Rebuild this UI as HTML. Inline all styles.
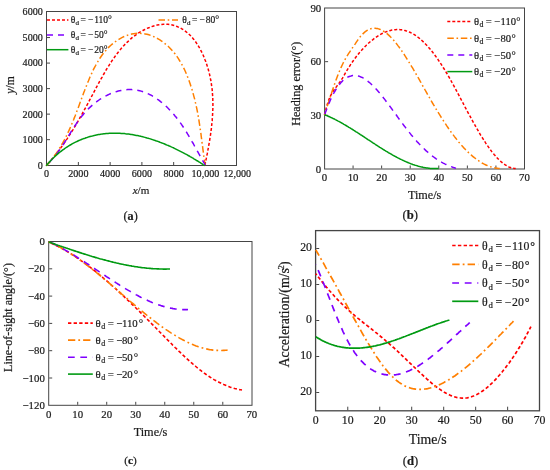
<!DOCTYPE html>
<html><head><meta charset="utf-8"><style>
html,body{margin:0;padding:0;background:#fff;}
svg{display:block;}
text{font-family:"Liberation Serif", "Times New Roman", serif;fill:#1a1a1a;stroke:#1a1a1a;stroke-width:0.2px;}
</style></head><body>
<svg width="550" height="470" viewBox="0 0 550 470">
<rect width="550" height="470" fill="#fff"/>
<rect x="46.50" y="11.50" width="190.00" height="154.00" fill="none" stroke="#454545" stroke-width="1.00"/>
<line x1="47.00" y1="139.67" x2="50.00" y2="139.67" stroke="#454545"/>
<line x1="47.00" y1="114.14" x2="50.00" y2="114.14" stroke="#454545"/>
<line x1="47.00" y1="88.61" x2="50.00" y2="88.61" stroke="#454545"/>
<line x1="47.00" y1="63.08" x2="50.00" y2="63.08" stroke="#454545"/>
<line x1="47.00" y1="37.55" x2="50.00" y2="37.55" stroke="#454545"/>
<line x1="78.37" y1="165.00" x2="78.37" y2="162.00" stroke="#454545"/>
<line x1="110.13" y1="165.00" x2="110.13" y2="162.00" stroke="#454545"/>
<line x1="141.90" y1="165.00" x2="141.90" y2="162.00" stroke="#454545"/>
<line x1="173.67" y1="165.00" x2="173.67" y2="162.00" stroke="#454545"/>
<line x1="205.43" y1="165.00" x2="205.43" y2="162.00" stroke="#454545"/>
<text x="42.80" y="168.60" font-size="10.10" text-anchor="end">0</text>
<text x="42.80" y="143.07" font-size="10.10" text-anchor="end">1000</text>
<text x="42.80" y="117.54" font-size="10.10" text-anchor="end">2000</text>
<text x="42.80" y="92.01" font-size="10.10" text-anchor="end">3000</text>
<text x="42.80" y="66.48" font-size="10.10" text-anchor="end">4000</text>
<text x="42.80" y="40.95" font-size="10.10" text-anchor="end">5000</text>
<text x="42.80" y="15.42" font-size="10.10" text-anchor="end">6000</text>
<text x="46.60" y="176.60" font-size="10.10" text-anchor="middle">0</text>
<text x="78.37" y="176.60" font-size="10.10" text-anchor="middle">2000</text>
<text x="110.13" y="176.60" font-size="10.10" text-anchor="middle">4000</text>
<text x="141.90" y="176.60" font-size="10.10" text-anchor="middle">6000</text>
<text x="173.67" y="176.60" font-size="10.10" text-anchor="middle">8000</text>
<text x="205.43" y="176.60" font-size="10.10" text-anchor="middle">10,000</text>
<text x="237.20" y="176.60" font-size="10.10" text-anchor="middle">12,000</text>
<text x="141" y="194" font-size="11.1" text-anchor="middle"><tspan font-style="italic">x</tspan>/m</text>
<text transform="translate(14.2 85) rotate(-90)" font-size="11.6" text-anchor="middle"><tspan font-style="italic">y</tspan>/m</text>
<text x="130.6" y="219.5" font-size="12.2" text-anchor="middle">(<tspan font-weight="bold">a</tspan>)</text>
<path d="M46.2 165.7 L47.8 163.9 L49.3 162.2 L50.9 160.4 L52.4 158.6 L53.8 156.8 L55.3 155.0 L56.7 153.2 L58.1 151.4 L59.4 149.6 L60.8 147.8 L62.1 146.0 L63.4 144.2 L64.7 142.4 L65.9 140.6 L67.1 138.8 L68.3 136.9 L69.5 135.1 L70.7 133.3 L71.9 131.4 L73.0 129.6 L74.1 127.7 L75.3 125.9 L76.4 124.0 L77.5 122.2 L78.5 120.3 L79.6 118.4 L80.7 116.5 L81.8 114.6 L82.8 112.7 L83.9 110.8 L84.9 108.9 L86.0 107.0 L87.0 105.0 L88.1 103.1 L89.1 101.1 L90.1 99.2 L91.2 97.2 L92.3 95.2 L93.3 93.2 L94.4 91.2 L95.4 89.2 L96.5 87.2 L97.6 85.2 L98.7 83.1 L99.8 81.1 L100.9 79.1 L102.1 77.1 L103.2 75.0 L104.4 73.0 L105.6 71.0 L106.7 69.0 L108.0 67.1 L109.2 65.1 L110.4 63.2 L111.7 61.2 L113.0 59.3 L114.3 57.5 L115.6 55.6 L117.0 53.8 L118.4 52.0 L119.8 50.3 L121.2 48.6 L122.7 46.9 L124.2 45.2 L125.7 43.6 L127.3 42.1 L128.9 40.6 L130.5 39.1 L132.1 37.7 L133.8 36.4 L135.6 35.1 L137.3 33.8 L139.1 32.6 L141.0 31.5 L142.9 30.5 L144.8 29.5 L146.7 28.5 L148.8 27.7 L150.8 26.9 L152.9 26.2 L155.0 25.6 L157.2 25.1 L159.3 24.7 L161.5 24.4 L163.7 24.2 L165.8 24.2 L168.0 24.3 L170.2 24.6 L172.3 25.0 L174.4 25.6 L176.4 26.3 L178.4 27.1 L180.4 28.0 L182.3 29.1 L184.1 30.3 L185.9 31.6 L187.6 33.0 L189.3 34.5 L190.9 36.0 L192.4 37.7 L193.8 39.4 L195.2 41.2 L196.5 43.1 L197.8 45.0 L199.0 47.0 L200.1 49.0 L201.2 51.1 L202.2 53.1 L203.2 55.2 L204.1 57.4 L204.9 59.5 L205.8 61.7 L206.5 63.8 L207.2 66.0 L207.9 68.1 L208.5 70.3 L209.1 72.5 L209.6 74.6 L210.1 76.8 L210.5 79.0 L211.0 81.2 L211.3 83.4 L211.6 85.6 L211.9 87.7 L212.2 89.9 L212.4 92.1 L212.5 94.3 L212.7 96.5 L212.8 98.7 L212.8 100.9 L212.9 103.2 L212.9 105.4 L212.9 107.6 L212.8 109.8 L212.7 112.0 L212.6 114.2 L212.5 116.4 L212.3 118.6 L212.2 120.9 L211.9 123.1 L211.7 125.3 L211.5 127.5 L211.2 129.7 L210.9 131.9 L210.6 134.1 L210.3 136.4 L209.9 138.6 L209.6 140.8 L209.2 143.0 L208.8 145.2 L208.4 147.4 L208.0 149.6 L207.6 151.8 L207.2 154.0 L206.7 156.2 L206.3 158.4 L205.8 160.6 L205.4 162.8 L204.9 165.0" fill="none" stroke="#ff0000" stroke-width="1.50" stroke-dasharray="3.00 2.00" stroke-dashoffset="2.55"/>
<path d="M46.4 165.7 L47.9 164.1 L49.3 162.4 L50.7 160.8 L52.0 159.1 L53.3 157.4 L54.6 155.7 L55.8 154.0 L56.9 152.3 L58.1 150.6 L59.2 148.8 L60.3 147.1 L61.3 145.3 L62.4 143.5 L63.3 141.8 L64.3 140.0 L65.3 138.2 L66.2 136.4 L67.1 134.6 L67.9 132.8 L68.8 130.9 L69.6 129.1 L70.4 127.2 L71.2 125.4 L72.0 123.5 L72.8 121.6 L73.6 119.8 L74.3 117.9 L75.1 116.0 L75.8 114.1 L76.5 112.2 L77.2 110.3 L78.0 108.4 L78.7 106.4 L79.4 104.5 L80.1 102.6 L80.8 100.6 L81.5 98.7 L82.3 96.7 L83.0 94.8 L83.7 92.8 L84.5 90.8 L85.2 88.9 L86.0 86.9 L86.8 84.9 L87.5 82.9 L88.4 81.0 L89.2 79.0 L90.0 77.0 L90.9 75.1 L91.8 73.1 L92.7 71.2 L93.6 69.2 L94.6 67.3 L95.6 65.5 L96.6 63.6 L97.7 61.8 L98.8 60.0 L99.9 58.2 L101.1 56.5 L102.3 54.8 L103.6 53.1 L104.9 51.5 L106.3 49.9 L107.7 48.4 L109.1 46.9 L110.6 45.5 L112.2 44.2 L113.8 42.9 L115.4 41.6 L117.1 40.5 L118.8 39.4 L120.6 38.3 L122.3 37.4 L124.2 36.5 L126.0 35.8 L127.8 35.1 L129.7 34.5 L131.6 34.1 L133.5 33.7 L135.4 33.4 L137.3 33.3 L139.3 33.3 L141.2 33.4 L143.1 33.6 L145.1 33.9 L147.0 34.3 L148.9 34.8 L150.8 35.5 L152.6 36.2 L154.5 37.0 L156.3 37.9 L158.1 38.9 L159.9 39.9 L161.6 41.1 L163.3 42.3 L164.9 43.6 L166.5 44.9 L168.1 46.3 L169.6 47.7 L171.0 49.2 L172.4 50.8 L173.8 52.4 L175.1 54.0 L176.3 55.7 L177.6 57.4 L178.7 59.2 L179.8 61.0 L180.9 62.8 L181.9 64.6 L182.9 66.5 L183.9 68.4 L184.8 70.3 L185.7 72.3 L186.5 74.2 L187.3 76.2 L188.1 78.2 L188.9 80.2 L189.6 82.2 L190.3 84.2 L190.9 86.2 L191.6 88.2 L192.2 90.1 L192.7 92.1 L193.3 94.1 L193.8 96.1 L194.4 98.1 L194.9 100.1 L195.3 102.1 L195.8 104.1 L196.2 106.1 L196.7 108.1 L197.1 110.1 L197.5 112.1 L197.8 114.1 L198.2 116.1 L198.5 118.1 L198.9 120.1 L199.2 122.1 L199.5 124.1 L199.8 126.1 L200.1 128.1 L200.4 130.2 L200.7 132.2 L201.0 134.2 L201.2 136.2 L201.5 138.3 L201.8 140.3 L202.0 142.3 L202.3 144.4 L202.6 146.4 L202.8 148.5 L203.1 150.6 L203.4 152.6 L203.6 154.7 L203.9 156.8 L204.2 158.8 L204.5 160.9 L204.7 163.0 L205.0 165.1" fill="none" stroke="#ff7f00" stroke-width="1.50" stroke-dasharray="6.50 2.70 1.60 2.70" stroke-dashoffset="1.13"/>
<path d="M46.3 164.9 L47.4 164.0 L48.4 163.0 L49.5 162.1 L50.5 161.1 L51.4 160.1 L52.4 159.0 L53.3 158.0 L54.3 156.9 L55.2 155.8 L56.0 154.7 L56.9 153.6 L57.8 152.5 L58.6 151.3 L59.4 150.2 L60.3 149.0 L61.1 147.8 L61.9 146.6 L62.7 145.4 L63.4 144.2 L64.2 142.9 L65.0 141.7 L65.8 140.5 L66.5 139.2 L67.3 138.0 L68.1 136.7 L68.8 135.5 L69.6 134.2 L70.4 133.0 L71.1 131.7 L71.9 130.5 L72.7 129.2 L73.5 128.0 L74.3 126.8 L75.1 125.5 L75.9 124.3 L76.7 123.1 L77.5 121.9 L78.4 120.7 L79.3 119.5 L80.1 118.3 L81.0 117.2 L81.9 116.0 L82.9 114.9 L83.8 113.7 L84.8 112.6 L85.8 111.5 L86.8 110.5 L87.8 109.4 L88.8 108.4 L89.9 107.4 L91.0 106.4 L92.1 105.4 L93.2 104.5 L94.3 103.5 L95.5 102.6 L96.7 101.7 L97.8 100.9 L99.0 100.0 L100.2 99.2 L101.5 98.5 L102.7 97.7 L103.9 97.0 L105.2 96.3 L106.5 95.6 L107.7 95.0 L109.0 94.4 L110.3 93.8 L111.6 93.3 L112.9 92.8 L114.3 92.3 L115.6 91.9 L116.9 91.5 L118.2 91.1 L119.6 90.8 L120.9 90.5 L122.3 90.2 L123.6 90.0 L125.0 89.8 L126.3 89.7 L127.7 89.6 L129.0 89.6 L130.4 89.5 L131.7 89.6 L133.1 89.7 L134.4 89.8 L135.8 89.9 L137.1 90.2 L138.4 90.4 L139.8 90.7 L141.1 91.1 L142.4 91.5 L143.7 91.9 L145.0 92.4 L146.3 92.9 L147.6 93.5 L148.9 94.1 L150.2 94.8 L151.5 95.4 L152.7 96.2 L154.0 96.9 L155.2 97.7 L156.4 98.5 L157.6 99.4 L158.8 100.2 L160.0 101.1 L161.2 102.1 L162.4 103.0 L163.5 104.0 L164.6 105.0 L165.8 106.0 L166.9 107.0 L167.9 108.1 L169.0 109.2 L170.1 110.3 L171.1 111.4 L172.1 112.5 L173.1 113.6 L174.1 114.7 L175.0 115.9 L176.0 117.0 L176.9 118.2 L177.8 119.4 L178.7 120.5 L179.6 121.7 L180.4 122.9 L181.3 124.1 L182.1 125.3 L182.9 126.5 L183.7 127.7 L184.5 129.0 L185.3 130.2 L186.0 131.4 L186.8 132.6 L187.5 133.9 L188.3 135.1 L189.0 136.3 L189.7 137.5 L190.5 138.8 L191.2 140.0 L191.9 141.3 L192.6 142.5 L193.3 143.7 L194.0 145.0 L194.6 146.2 L195.3 147.5 L196.0 148.7 L196.7 149.9 L197.4 151.2 L198.1 152.4 L198.8 153.7 L199.5 154.9 L200.2 156.2 L200.9 157.4 L201.6 158.7 L202.3 159.9 L203.0 161.2 L203.7 162.4 L204.5 163.6 L205.2 164.9" fill="none" stroke="#7f00ff" stroke-width="1.50" stroke-dasharray="6.00 5.00" stroke-dashoffset="7.22"/>
<path d="M46.2 165.9 L46.9 164.9 L47.7 164.0 L48.5 163.1 L49.2 162.2 L50.0 161.4 L50.8 160.5 L51.6 159.7 L52.4 158.8 L53.3 158.0 L54.1 157.2 L54.9 156.4 L55.8 155.6 L56.6 154.9 L57.5 154.1 L58.3 153.4 L59.2 152.7 L60.1 152.0 L61.0 151.3 L61.9 150.6 L62.8 149.9 L63.7 149.3 L64.6 148.6 L65.5 148.0 L66.4 147.4 L67.3 146.8 L68.3 146.2 L69.2 145.6 L70.2 145.0 L71.1 144.5 L72.1 143.9 L73.0 143.4 L74.0 142.9 L75.0 142.4 L76.0 141.9 L76.9 141.5 L77.9 141.0 L78.9 140.5 L79.9 140.1 L80.9 139.7 L81.9 139.3 L82.9 138.9 L84.0 138.5 L85.0 138.2 L86.0 137.8 L87.0 137.5 L88.1 137.1 L89.1 136.8 L90.1 136.5 L91.2 136.2 L92.2 136.0 L93.3 135.7 L94.3 135.4 L95.4 135.2 L96.4 135.0 L97.5 134.8 L98.5 134.6 L99.6 134.4 L100.6 134.2 L101.7 134.1 L102.8 133.9 L103.8 133.8 L104.9 133.7 L106.0 133.6 L107.1 133.5 L108.1 133.4 L109.2 133.3 L110.3 133.3 L111.4 133.2 L112.5 133.2 L113.5 133.2 L114.6 133.2 L115.7 133.2 L116.8 133.2 L117.9 133.2 L118.9 133.3 L120.0 133.3 L121.1 133.4 L122.2 133.5 L123.3 133.6 L124.4 133.6 L125.5 133.8 L126.6 133.9 L127.6 134.0 L128.7 134.1 L129.8 134.3 L130.9 134.5 L132.0 134.6 L133.1 134.8 L134.2 135.0 L135.2 135.2 L136.3 135.4 L137.4 135.6 L138.5 135.8 L139.6 136.1 L140.7 136.3 L141.7 136.6 L142.8 136.8 L143.9 137.1 L145.0 137.4 L146.1 137.7 L147.1 138.0 L148.2 138.3 L149.3 138.6 L150.4 138.9 L151.4 139.3 L152.5 139.6 L153.6 140.0 L154.6 140.3 L155.7 140.7 L156.7 141.0 L157.8 141.4 L158.9 141.8 L159.9 142.2 L161.0 142.6 L162.0 143.0 L163.1 143.4 L164.1 143.8 L165.1 144.2 L166.2 144.7 L167.2 145.1 L168.3 145.5 L169.3 146.0 L170.3 146.4 L171.3 146.9 L172.4 147.4 L173.4 147.8 L174.4 148.3 L175.4 148.8 L176.4 149.3 L177.4 149.8 L178.4 150.3 L179.4 150.8 L180.4 151.3 L181.4 151.8 L182.4 152.3 L183.4 152.8 L184.3 153.3 L185.3 153.9 L186.3 154.4 L187.3 154.9 L188.2 155.5 L189.2 156.0 L190.1 156.6 L191.1 157.1 L192.0 157.7 L193.0 158.2 L193.9 158.8 L194.8 159.3 L195.7 159.9 L196.7 160.5 L197.6 161.0 L198.5 161.6 L199.4 162.2 L200.3 162.7 L201.2 163.3 L202.1 163.9 L202.9 164.5 L203.8 165.1 L204.7 165.6" fill="none" stroke="#009a12" stroke-width="1.50"/>
<line x1="47.00" y1="20.00" x2="68.40" y2="20.00" stroke="#ff0000" stroke-width="1.50" stroke-dasharray="3.00 2.00"/>
<text y="23.20" font-size="9.50"><tspan x="70.65">θ</tspan><tspan x="75.45" dy="1.90" font-size="7.03">d</tspan><tspan x="80.62" dy="-1.90">=</tspan><tspan x="88.12">−</tspan><tspan x="94.16">110</tspan><tspan dx="0.00">°</tspan></text>
<line x1="47.00" y1="35.10" x2="68.40" y2="35.10" stroke="#7f00ff" stroke-width="1.50" stroke-dasharray="6.00 5.00"/>
<text y="38.30" font-size="9.50"><tspan x="70.65">θ</tspan><tspan x="75.45" dy="1.90" font-size="7.03">d</tspan><tspan x="80.62" dy="-1.90">=</tspan><tspan x="88.12">−</tspan><tspan x="94.16">50</tspan><tspan dx="0.00">°</tspan></text>
<line x1="47.00" y1="49.70" x2="68.40" y2="49.70" stroke="#009a12" stroke-width="1.50"/>
<text y="52.90" font-size="9.50"><tspan x="70.65">θ</tspan><tspan x="75.45" dy="1.90" font-size="7.03">d</tspan><tspan x="80.62" dy="-1.90">=</tspan><tspan x="88.12">−</tspan><tspan x="94.16">20</tspan><tspan dx="0.00">°</tspan></text>
<line x1="158.50" y1="20.00" x2="178.00" y2="20.00" stroke="#ff7f00" stroke-width="1.50" stroke-dasharray="6.50 2.70 1.60 2.70"/>
<text y="23.20" font-size="9.50"><tspan x="182.15">θ</tspan><tspan x="186.95" dy="1.90" font-size="7.03">d</tspan><tspan x="192.12" dy="-1.90">=</tspan><tspan x="199.62">−</tspan><tspan x="205.66">80</tspan><tspan dx="0.00">°</tspan></text>
<rect x="324.60" y="8.00" width="199.90" height="161.00" fill="none" stroke="#454545" stroke-width="1.00"/>
<line x1="325.10" y1="115.33" x2="328.10" y2="115.33" stroke="#454545"/>
<line x1="325.10" y1="61.67" x2="328.10" y2="61.67" stroke="#454545"/>
<line x1="353.07" y1="168.50" x2="353.07" y2="165.50" stroke="#454545"/>
<line x1="381.64" y1="168.50" x2="381.64" y2="165.50" stroke="#454545"/>
<line x1="410.21" y1="168.50" x2="410.21" y2="165.50" stroke="#454545"/>
<line x1="438.79" y1="168.50" x2="438.79" y2="165.50" stroke="#454545"/>
<line x1="467.36" y1="168.50" x2="467.36" y2="165.50" stroke="#454545"/>
<line x1="495.93" y1="168.50" x2="495.93" y2="165.50" stroke="#454545"/>
<text x="321.20" y="172.60" font-size="10.80" text-anchor="end">0</text>
<text x="321.20" y="118.93" font-size="10.80" text-anchor="end">30</text>
<text x="321.20" y="65.27" font-size="10.80" text-anchor="end">60</text>
<text x="321.20" y="11.60" font-size="10.80" text-anchor="end">90</text>
<text x="324.50" y="180.60" font-size="10.80" text-anchor="middle">0</text>
<text x="353.07" y="180.60" font-size="10.80" text-anchor="middle">10</text>
<text x="381.64" y="180.60" font-size="10.80" text-anchor="middle">20</text>
<text x="410.21" y="180.60" font-size="10.80" text-anchor="middle">30</text>
<text x="438.79" y="180.60" font-size="10.80" text-anchor="middle">40</text>
<text x="467.36" y="180.60" font-size="10.80" text-anchor="middle">50</text>
<text x="495.93" y="180.60" font-size="10.80" text-anchor="middle">60</text>
<text x="524.50" y="180.60" font-size="10.80" text-anchor="middle">70</text>
<text x="424.60" y="199.20" font-size="12.20" text-anchor="middle">Time/s</text>
<text transform="translate(300.0 83.75) rotate(-90)" font-size="12.15" text-anchor="middle">Heading error/(°)</text>
<text x="410.3" y="219.3" font-size="12.7" text-anchor="middle">(<tspan font-weight="bold">b</tspan>)</text>
<path d="M324.5 115.2 L325.7 110.0 L326.9 105.6 L328.1 101.8 L329.3 98.6 L330.5 95.9 L331.7 93.6 L332.9 91.6 L334.1 89.8 L335.3 88.2 L336.5 86.6 L337.7 85.1 L338.9 83.4 L340.1 81.7 L341.3 79.9 L342.5 78.1 L343.7 76.0 L344.9 73.9 L346.1 71.8 L347.3 69.8 L348.6 67.8 L349.8 65.9 L351.0 64.0 L352.2 62.3 L353.4 60.5 L354.6 58.9 L355.8 57.2 L357.0 55.7 L358.2 54.2 L359.4 52.7 L360.6 51.3 L361.8 50.0 L363.0 48.7 L364.2 47.4 L365.4 46.2 L366.6 45.0 L367.8 43.9 L369.0 42.8 L370.2 41.7 L371.4 40.7 L372.6 39.8 L373.8 38.8 L375.0 37.9 L376.2 37.1 L377.4 36.3 L378.6 35.5 L379.8 34.8 L381.0 34.1 L382.2 33.5 L383.4 32.9 L384.6 32.4 L385.8 31.9 L387.0 31.5 L388.2 31.1 L389.4 30.7 L390.6 30.4 L391.8 30.1 L393.0 29.9 L394.2 29.8 L395.4 29.7 L396.7 29.6 L397.9 29.6 L399.1 29.6 L400.3 29.7 L401.5 29.8 L402.7 30.0 L403.9 30.3 L405.1 30.6 L406.3 30.9 L407.5 31.3 L408.7 31.8 L409.9 32.3 L411.1 32.9 L412.3 33.5 L413.5 34.2 L414.7 34.9 L415.9 35.7 L417.1 36.6 L418.3 37.5 L419.5 38.4 L420.7 39.4 L421.9 40.5 L423.1 41.6 L424.3 42.7 L425.5 44.0 L426.7 45.2 L427.9 46.5 L429.1 47.9 L430.3 49.3 L431.5 50.8 L432.7 52.3 L433.9 53.9 L435.1 55.5 L436.3 57.1 L437.5 58.8 L438.7 60.6 L439.9 62.4 L441.1 64.2 L442.3 66.1 L443.5 68.0 L444.8 70.0 L446.0 72.0 L447.2 74.0 L448.4 76.1 L449.6 78.2 L450.8 80.4 L452.0 82.5 L453.2 84.7 L454.4 86.9 L455.6 89.2 L456.8 91.4 L458.0 93.7 L459.2 95.9 L460.4 98.2 L461.6 100.5 L462.8 102.7 L464.0 105.0 L465.2 107.3 L466.4 109.5 L467.6 111.8 L468.8 114.0 L470.0 116.2 L471.2 118.4 L472.4 120.6 L473.6 122.8 L474.8 124.9 L476.0 127.1 L477.2 129.2 L478.4 131.2 L479.6 133.3 L480.8 135.3 L482.0 137.2 L483.2 139.1 L484.4 141.0 L485.6 142.9 L486.8 144.7 L488.0 146.4 L489.2 148.1 L490.4 149.8 L491.6 151.4 L492.9 152.9 L494.1 154.4 L495.3 155.8 L496.5 157.2 L497.7 158.4 L498.9 159.7 L500.1 160.8 L501.3 161.9 L502.5 162.9 L503.7 163.8 L504.9 164.7 L506.1 165.4 L507.3 166.1 L508.5 166.7 L509.7 167.2 L510.9 167.7 L512.1 168.0 L513.3 168.2 L514.5 168.4 L515.7 168.4" fill="none" stroke="#ff0000" stroke-width="1.50" stroke-dasharray="3.00 2.00" stroke-dashoffset="0.01"/>
<path d="M324.5 115.2 L325.6 111.7 L326.7 108.1 L327.8 104.6 L328.9 101.2 L330.0 97.7 L331.1 94.3 L332.2 91.0 L333.3 87.8 L334.4 84.6 L335.5 81.5 L336.6 78.5 L337.7 75.6 L338.8 72.8 L339.9 70.2 L341.0 67.6 L342.1 65.2 L343.2 63.0 L344.3 60.8 L345.4 58.8 L346.5 56.9 L347.6 55.2 L348.7 53.4 L349.8 51.8 L350.9 50.2 L352.0 48.5 L353.1 46.9 L354.3 45.2 L355.4 43.6 L356.5 41.9 L357.6 40.3 L358.7 38.7 L359.8 37.3 L360.9 35.9 L362.0 34.7 L363.1 33.6 L364.2 32.6 L365.3 31.7 L366.4 30.9 L367.5 30.2 L368.6 29.7 L369.7 29.2 L370.8 28.8 L371.9 28.5 L373.0 28.4 L374.1 28.3 L375.2 28.3 L376.3 28.4 L377.4 28.6 L378.5 28.9 L379.6 29.2 L380.7 29.7 L381.8 30.2 L382.9 30.8 L384.0 31.5 L385.1 32.2 L386.2 33.0 L387.3 33.9 L388.4 34.9 L389.5 35.9 L390.6 37.0 L391.7 38.1 L392.8 39.3 L393.9 40.5 L395.0 41.8 L396.1 43.2 L397.2 44.6 L398.3 46.1 L399.4 47.5 L400.5 49.1 L401.6 50.7 L402.7 52.3 L403.8 53.9 L404.9 55.6 L406.0 57.3 L407.1 59.1 L408.2 60.9 L409.3 62.7 L410.4 64.5 L411.5 66.3 L412.7 68.2 L413.8 70.1 L414.9 72.0 L416.0 73.9 L417.1 75.8 L418.2 77.7 L419.3 79.7 L420.4 81.6 L421.5 83.6 L422.6 85.6 L423.7 87.5 L424.8 89.5 L425.9 91.4 L427.0 93.4 L428.1 95.3 L429.2 97.2 L430.3 99.2 L431.4 101.1 L432.5 103.0 L433.6 104.8 L434.7 106.7 L435.8 108.5 L436.9 110.4 L438.0 112.2 L439.1 113.9 L440.2 115.7 L441.3 117.5 L442.4 119.2 L443.5 120.9 L444.6 122.6 L445.7 124.2 L446.8 125.9 L447.9 127.5 L449.0 129.1 L450.1 130.6 L451.2 132.2 L452.3 133.7 L453.4 135.1 L454.5 136.6 L455.6 138.0 L456.7 139.4 L457.8 140.8 L458.9 142.2 L460.0 143.5 L461.1 144.8 L462.2 146.0 L463.3 147.2 L464.4 148.4 L465.5 149.6 L466.6 150.7 L467.7 151.8 L468.8 152.9 L469.9 153.9 L471.1 154.9 L472.2 155.9 L473.3 156.8 L474.4 157.7 L475.5 158.5 L476.6 159.4 L477.7 160.2 L478.8 160.9 L479.9 161.6 L481.0 162.3 L482.1 163.0 L483.2 163.6 L484.3 164.2 L485.4 164.7 L486.5 165.2 L487.6 165.7 L488.7 166.2 L489.8 166.6 L490.9 166.9 L492.0 167.2 L493.1 167.5 L494.2 167.8 L495.3 168.0 L496.4 168.2 L497.5 168.3 L498.6 168.4 L499.7 168.5" fill="none" stroke="#ff7f00" stroke-width="1.50" stroke-dasharray="6.50 2.70 1.60 2.70" stroke-dashoffset="4.10"/>
<path d="M324.5 115.1 L325.3 112.7 L326.2 110.5 L327.0 108.2 L327.8 106.1 L328.6 104.1 L329.5 102.1 L330.3 100.2 L331.1 98.4 L331.9 96.7 L332.8 95.0 L333.6 93.5 L334.4 92.0 L335.3 90.5 L336.1 89.2 L336.9 87.9 L337.7 86.7 L338.6 85.5 L339.4 84.5 L340.2 83.5 L341.0 82.5 L341.9 81.6 L342.7 80.8 L343.5 80.1 L344.3 79.4 L345.2 78.7 L346.0 78.2 L346.8 77.7 L347.7 77.2 L348.5 76.8 L349.3 76.5 L350.1 76.2 L351.0 76.0 L351.8 75.8 L352.6 75.6 L353.4 75.6 L354.3 75.5 L355.1 75.6 L355.9 75.6 L356.8 75.7 L357.6 75.9 L358.4 76.1 L359.2 76.3 L360.1 76.6 L360.9 77.0 L361.7 77.3 L362.5 77.7 L363.4 78.2 L364.2 78.7 L365.0 79.2 L365.9 79.7 L366.7 80.3 L367.5 80.9 L368.3 81.6 L369.2 82.3 L370.0 83.0 L370.8 83.7 L371.6 84.5 L372.5 85.3 L373.3 86.1 L374.1 86.9 L374.9 87.8 L375.8 88.7 L376.6 89.6 L377.4 90.5 L378.3 91.5 L379.1 92.4 L379.9 93.4 L380.7 94.4 L381.6 95.4 L382.4 96.5 L383.2 97.5 L384.0 98.6 L384.9 99.6 L385.7 100.7 L386.5 101.8 L387.4 102.9 L388.2 104.0 L389.0 105.1 L389.8 106.2 L390.7 107.4 L391.5 108.5 L392.3 109.6 L393.1 110.8 L394.0 111.9 L394.8 113.0 L395.6 114.2 L396.5 115.3 L397.3 116.5 L398.1 117.6 L398.9 118.7 L399.8 119.9 L400.6 121.0 L401.4 122.1 L402.2 123.2 L403.1 124.4 L403.9 125.5 L404.7 126.6 L405.6 127.6 L406.4 128.7 L407.2 129.8 L408.0 130.8 L408.9 131.9 L409.7 132.9 L410.5 133.9 L411.3 134.9 L412.2 135.9 L413.0 136.9 L413.8 137.9 L414.6 138.8 L415.5 139.8 L416.3 140.7 L417.1 141.7 L418.0 142.6 L418.8 143.5 L419.6 144.3 L420.4 145.2 L421.3 146.1 L422.1 146.9 L422.9 147.7 L423.7 148.5 L424.6 149.3 L425.4 150.1 L426.2 150.9 L427.1 151.6 L427.9 152.3 L428.7 153.0 L429.5 153.7 L430.4 154.4 L431.2 155.1 L432.0 155.7 L432.8 156.4 L433.7 157.0 L434.5 157.6 L435.3 158.2 L436.2 158.8 L437.0 159.3 L437.8 159.9 L438.6 160.4 L439.5 160.9 L440.3 161.4 L441.1 161.9 L441.9 162.4 L442.8 162.9 L443.6 163.3 L444.4 163.7 L445.2 164.1 L446.1 164.5 L446.9 164.9 L447.7 165.3 L448.6 165.6 L449.4 166.0 L450.2 166.3 L451.0 166.6 L451.9 166.9 L452.7 167.2 L453.5 167.5 L454.3 167.7 L455.2 168.0 L456.0 168.2" fill="none" stroke="#7f00ff" stroke-width="1.50" stroke-dasharray="6.00 5.00" stroke-dashoffset="10.04"/>
<path d="M324.5 114.7 L325.2 115.0 L325.9 115.3 L326.7 115.6 L327.4 115.9 L328.1 116.2 L328.8 116.5 L329.5 116.8 L330.2 117.1 L331.0 117.5 L331.7 117.8 L332.4 118.1 L333.1 118.5 L333.8 118.8 L334.6 119.2 L335.3 119.6 L336.0 119.9 L336.7 120.3 L337.4 120.7 L338.1 121.1 L338.9 121.4 L339.6 121.8 L340.3 122.2 L341.0 122.6 L341.7 123.0 L342.5 123.4 L343.2 123.8 L343.9 124.3 L344.6 124.7 L345.3 125.1 L346.0 125.5 L346.8 126.0 L347.5 126.4 L348.2 126.8 L348.9 127.3 L349.6 127.7 L350.4 128.1 L351.1 128.6 L351.8 129.0 L352.5 129.5 L353.2 129.9 L353.9 130.4 L354.7 130.8 L355.4 131.3 L356.1 131.8 L356.8 132.2 L357.5 132.7 L358.3 133.2 L359.0 133.6 L359.7 134.1 L360.4 134.6 L361.1 135.0 L361.8 135.5 L362.6 136.0 L363.3 136.4 L364.0 136.9 L364.7 137.4 L365.4 137.9 L366.2 138.3 L366.9 138.8 L367.6 139.3 L368.3 139.8 L369.0 140.2 L369.7 140.7 L370.5 141.2 L371.2 141.7 L371.9 142.1 L372.6 142.6 L373.3 143.1 L374.1 143.5 L374.8 144.0 L375.5 144.5 L376.2 145.0 L376.9 145.4 L377.6 145.9 L378.4 146.3 L379.1 146.8 L379.8 147.3 L380.5 147.7 L381.2 148.2 L382.0 148.6 L382.7 149.1 L383.4 149.5 L384.1 150.0 L384.8 150.4 L385.6 150.8 L386.3 151.3 L387.0 151.7 L387.7 152.1 L388.4 152.6 L389.1 153.0 L389.9 153.4 L390.6 153.8 L391.3 154.2 L392.0 154.7 L392.7 155.1 L393.5 155.5 L394.2 155.9 L394.9 156.3 L395.6 156.6 L396.3 157.0 L397.0 157.4 L397.8 157.8 L398.5 158.2 L399.2 158.5 L399.9 158.9 L400.6 159.2 L401.4 159.6 L402.1 159.9 L402.8 160.3 L403.5 160.6 L404.2 160.9 L404.9 161.3 L405.7 161.6 L406.4 161.9 L407.1 162.2 L407.8 162.5 L408.5 162.8 L409.3 163.1 L410.0 163.4 L410.7 163.7 L411.4 163.9 L412.1 164.2 L412.8 164.5 L413.6 164.7 L414.3 164.9 L415.0 165.2 L415.7 165.4 L416.4 165.6 L417.2 165.8 L417.9 166.1 L418.6 166.3 L419.3 166.4 L420.0 166.6 L420.7 166.8 L421.5 167.0 L422.2 167.1 L422.9 167.3 L423.6 167.4 L424.3 167.6 L425.1 167.7 L425.8 167.8 L426.5 167.9 L427.2 168.0 L427.9 168.1 L428.6 168.2 L429.4 168.3 L430.1 168.4 L430.8 168.4 L431.5 168.5 L432.2 168.5 L433.0 168.5 L433.7 168.5 L434.4 168.6 L435.1 168.6 L435.8 168.5 L436.5 168.5 L437.3 168.5 L438.0 168.5 L438.7 168.4" fill="none" stroke="#009a12" stroke-width="1.50"/>
<line x1="447.30" y1="21.50" x2="472.30" y2="21.50" stroke="#ff0000" stroke-width="1.50" stroke-dasharray="3.00 2.00"/>
<text y="25.10" font-size="10.60"><tspan x="474.10">θ</tspan><tspan x="479.62" dy="2.12" font-size="7.84">d</tspan><tspan x="485.77" dy="-2.12">=</tspan><tspan x="494.47">−</tspan><tspan x="500.57">110</tspan><tspan dx="0.30">°</tspan></text>
<line x1="447.30" y1="38.30" x2="472.30" y2="38.30" stroke="#ff7f00" stroke-width="1.50" stroke-dasharray="6.50 2.70 1.60 2.70"/>
<text y="41.90" font-size="10.60"><tspan x="474.10">θ</tspan><tspan x="479.62" dy="2.12" font-size="7.84">d</tspan><tspan x="485.77" dy="-2.12">=</tspan><tspan x="494.47">−</tspan><tspan x="500.57">80</tspan><tspan dx="0.30">°</tspan></text>
<line x1="447.30" y1="55.00" x2="472.30" y2="55.00" stroke="#7f00ff" stroke-width="1.50" stroke-dasharray="6.00 5.00"/>
<text y="58.60" font-size="10.60"><tspan x="474.10">θ</tspan><tspan x="479.62" dy="2.12" font-size="7.84">d</tspan><tspan x="485.77" dy="-2.12">=</tspan><tspan x="494.47">−</tspan><tspan x="500.57">50</tspan><tspan dx="0.30">°</tspan></text>
<line x1="447.30" y1="71.60" x2="472.30" y2="71.60" stroke="#009a12" stroke-width="1.50"/>
<text y="75.20" font-size="10.60"><tspan x="474.10">θ</tspan><tspan x="479.62" dy="2.12" font-size="7.84">d</tspan><tspan x="485.77" dy="-2.12">=</tspan><tspan x="494.47">−</tspan><tspan x="500.57">20</tspan><tspan dx="0.30">°</tspan></text>
<rect x="48.70" y="241.50" width="203.30" height="163.80" fill="none" stroke="#454545" stroke-width="1.00"/>
<line x1="49.20" y1="268.80" x2="52.20" y2="268.80" stroke="#454545"/>
<line x1="49.20" y1="296.10" x2="52.20" y2="296.10" stroke="#454545"/>
<line x1="49.20" y1="323.40" x2="52.20" y2="323.40" stroke="#454545"/>
<line x1="49.20" y1="350.70" x2="52.20" y2="350.70" stroke="#454545"/>
<line x1="49.20" y1="378.00" x2="52.20" y2="378.00" stroke="#454545"/>
<line x1="77.71" y1="404.80" x2="77.71" y2="401.80" stroke="#454545"/>
<line x1="106.73" y1="404.80" x2="106.73" y2="401.80" stroke="#454545"/>
<line x1="135.74" y1="404.80" x2="135.74" y2="401.80" stroke="#454545"/>
<line x1="164.76" y1="404.80" x2="164.76" y2="401.80" stroke="#454545"/>
<line x1="193.77" y1="404.80" x2="193.77" y2="401.80" stroke="#454545"/>
<line x1="222.79" y1="404.80" x2="222.79" y2="401.80" stroke="#454545"/>
<text x="44.80" y="245.00" font-size="10.80" text-anchor="end">0</text>
<text x="44.80" y="272.30" font-size="10.80" text-anchor="end">−20</text>
<text x="44.80" y="299.60" font-size="10.80" text-anchor="end">−40</text>
<text x="44.80" y="326.90" font-size="10.80" text-anchor="end">−60</text>
<text x="44.80" y="354.20" font-size="10.80" text-anchor="end">−80</text>
<text x="44.80" y="381.50" font-size="10.80" text-anchor="end">−100</text>
<text x="44.80" y="408.80" font-size="10.80" text-anchor="end">−120</text>
<text x="48.70" y="417.80" font-size="10.80" text-anchor="middle">0</text>
<text x="77.71" y="417.80" font-size="10.80" text-anchor="middle">10</text>
<text x="106.73" y="417.80" font-size="10.80" text-anchor="middle">20</text>
<text x="135.74" y="417.80" font-size="10.80" text-anchor="middle">30</text>
<text x="164.76" y="417.80" font-size="10.80" text-anchor="middle">40</text>
<text x="193.77" y="417.80" font-size="10.80" text-anchor="middle">50</text>
<text x="222.79" y="417.80" font-size="10.80" text-anchor="middle">60</text>
<text x="251.80" y="417.80" font-size="10.80" text-anchor="middle">70</text>
<text x="150.50" y="436.40" font-size="12.30" text-anchor="middle">Time/s</text>
<text transform="translate(11.9 317.5) rotate(-90)" font-size="12.05" text-anchor="middle">Line-of-sight angle/(°)</text>
<text x="130.5" y="464.2" font-size="11.2" text-anchor="middle">(<tspan font-weight="bold">c</tspan>)</text>
<path d="M48.7 242.0 L49.9 242.6 L51.1 243.1 L52.3 243.7 L53.6 244.2 L54.8 244.8 L56.0 245.4 L57.2 246.0 L58.4 246.6 L59.6 247.3 L60.9 247.9 L62.1 248.6 L63.3 249.3 L64.5 250.0 L65.7 250.7 L66.9 251.4 L68.2 252.1 L69.4 252.9 L70.6 253.6 L71.8 254.4 L73.0 255.2 L74.2 256.0 L75.4 256.8 L76.7 257.6 L77.9 258.4 L79.1 259.2 L80.3 260.1 L81.5 260.9 L82.7 261.8 L84.0 262.7 L85.2 263.6 L86.4 264.5 L87.6 265.4 L88.8 266.3 L90.0 267.2 L91.3 268.2 L92.5 269.1 L93.7 270.1 L94.9 271.0 L96.1 272.0 L97.3 273.0 L98.5 274.0 L99.8 275.0 L101.0 276.0 L102.2 277.0 L103.4 278.1 L104.6 279.1 L105.8 280.1 L107.1 281.2 L108.3 282.2 L109.5 283.3 L110.7 284.4 L111.9 285.5 L113.1 286.5 L114.3 287.6 L115.6 288.7 L116.8 289.8 L118.0 291.0 L119.2 292.1 L120.4 293.2 L121.6 294.3 L122.9 295.5 L124.1 296.6 L125.3 297.8 L126.5 298.9 L127.7 300.1 L128.9 301.2 L130.2 302.4 L131.4 303.6 L132.6 304.8 L133.8 305.9 L135.0 307.1 L136.2 308.3 L137.4 309.5 L138.7 310.7 L139.9 311.9 L141.1 313.1 L142.3 314.3 L143.5 315.5 L144.7 316.7 L146.0 318.0 L147.2 319.2 L148.4 320.4 L149.6 321.6 L150.8 322.8 L152.0 324.1 L153.3 325.3 L154.5 326.5 L155.7 327.8 L156.9 329.0 L158.1 330.2 L159.3 331.5 L160.5 332.7 L161.8 334.0 L163.0 335.2 L164.2 336.4 L165.4 337.7 L166.6 338.9 L167.8 340.2 L169.1 341.4 L170.3 342.6 L171.5 343.8 L172.7 345.1 L173.9 346.3 L175.1 347.5 L176.4 348.7 L177.6 349.9 L178.8 351.1 L180.0 352.2 L181.2 353.4 L182.4 354.6 L183.6 355.7 L184.9 356.9 L186.1 358.0 L187.3 359.1 L188.5 360.2 L189.7 361.3 L190.9 362.4 L192.2 363.4 L193.4 364.5 L194.6 365.5 L195.8 366.5 L197.0 367.5 L198.2 368.5 L199.4 369.5 L200.7 370.4 L201.9 371.4 L203.1 372.3 L204.3 373.2 L205.5 374.0 L206.7 374.9 L208.0 375.7 L209.2 376.5 L210.4 377.3 L211.6 378.1 L212.8 378.8 L214.0 379.6 L215.3 380.3 L216.5 380.9 L217.7 381.6 L218.9 382.2 L220.1 382.8 L221.3 383.4 L222.5 384.0 L223.8 384.6 L225.0 385.1 L226.2 385.6 L227.4 386.1 L228.6 386.5 L229.8 387.0 L231.1 387.4 L232.3 387.8 L233.5 388.1 L234.7 388.5 L235.9 388.8 L237.1 389.1 L238.4 389.3 L239.6 389.6 L240.8 389.8 L242.0 390.0" fill="none" stroke="#ff0000" stroke-width="1.60" stroke-dasharray="3.36 2.24" stroke-dashoffset="3.08"/>
<path d="M48.7 242.0 L49.8 242.5 L51.0 243.0 L52.1 243.4 L53.2 244.0 L54.3 244.5 L55.5 245.0 L56.6 245.6 L57.7 246.1 L58.8 246.7 L60.0 247.3 L61.1 247.9 L62.2 248.5 L63.3 249.2 L64.5 249.8 L65.6 250.5 L66.7 251.2 L67.8 251.8 L69.0 252.5 L70.1 253.2 L71.2 254.0 L72.3 254.7 L73.5 255.4 L74.6 256.2 L75.7 257.0 L76.8 257.7 L78.0 258.5 L79.1 259.3 L80.2 260.1 L81.3 260.9 L82.5 261.7 L83.6 262.6 L84.7 263.4 L85.8 264.2 L87.0 265.1 L88.1 266.0 L89.2 266.8 L90.3 267.7 L91.5 268.6 L92.6 269.5 L93.7 270.4 L94.8 271.3 L96.0 272.2 L97.1 273.1 L98.2 274.0 L99.3 274.9 L100.5 275.9 L101.6 276.8 L102.7 277.7 L103.8 278.7 L105.0 279.6 L106.1 280.6 L107.2 281.5 L108.3 282.5 L109.5 283.4 L110.6 284.4 L111.7 285.3 L112.8 286.3 L114.0 287.3 L115.1 288.2 L116.2 289.2 L117.3 290.2 L118.5 291.1 L119.6 292.1 L120.7 293.1 L121.8 294.1 L123.0 295.0 L124.1 296.0 L125.2 297.0 L126.3 297.9 L127.5 298.9 L128.6 299.9 L129.7 300.8 L130.8 301.8 L132.0 302.8 L133.1 303.7 L134.2 304.7 L135.3 305.6 L136.5 306.6 L137.6 307.5 L138.7 308.5 L139.8 309.4 L141.0 310.4 L142.1 311.3 L143.2 312.2 L144.3 313.1 L145.5 314.1 L146.6 315.0 L147.7 315.9 L148.8 316.8 L150.0 317.7 L151.1 318.5 L152.2 319.4 L153.3 320.3 L154.5 321.2 L155.6 322.0 L156.7 322.9 L157.8 323.7 L159.0 324.6 L160.1 325.4 L161.2 326.2 L162.3 327.0 L163.5 327.8 L164.6 328.6 L165.7 329.4 L166.8 330.1 L168.0 330.9 L169.1 331.7 L170.2 332.4 L171.3 333.1 L172.5 333.8 L173.6 334.5 L174.7 335.2 L175.8 335.9 L177.0 336.6 L178.1 337.2 L179.2 337.9 L180.3 338.5 L181.5 339.1 L182.6 339.7 L183.7 340.3 L184.8 340.9 L186.0 341.5 L187.1 342.0 L188.2 342.6 L189.3 343.1 L190.5 343.6 L191.6 344.1 L192.7 344.5 L193.8 345.0 L195.0 345.4 L196.1 345.9 L197.2 346.3 L198.3 346.7 L199.5 347.0 L200.6 347.4 L201.7 347.7 L202.8 348.0 L204.0 348.3 L205.1 348.6 L206.2 348.9 L207.3 349.1 L208.5 349.4 L209.6 349.6 L210.7 349.7 L211.8 349.9 L213.0 350.1 L214.1 350.2 L215.2 350.3 L216.3 350.4 L217.5 350.4 L218.6 350.5 L219.7 350.5 L220.8 350.5 L222.0 350.5 L223.1 350.4 L224.2 350.4 L225.3 350.3 L226.5 350.2 L227.6 350.0" fill="none" stroke="#ff7f00" stroke-width="1.60" stroke-dasharray="7.28 3.02 1.79 3.02" stroke-dashoffset="4.61"/>
<path d="M48.7 241.5 L49.6 241.9 L50.5 242.3 L51.3 242.7 L52.2 243.1 L53.1 243.6 L54.0 244.0 L54.8 244.4 L55.7 244.9 L56.6 245.3 L57.5 245.8 L58.3 246.2 L59.2 246.7 L60.1 247.2 L61.0 247.7 L61.8 248.1 L62.7 248.6 L63.6 249.1 L64.5 249.6 L65.3 250.1 L66.2 250.6 L67.1 251.1 L68.0 251.6 L68.9 252.2 L69.7 252.7 L70.6 253.2 L71.5 253.7 L72.4 254.3 L73.2 254.8 L74.1 255.3 L75.0 255.9 L75.9 256.4 L76.7 257.0 L77.6 257.5 L78.5 258.1 L79.4 258.6 L80.2 259.2 L81.1 259.8 L82.0 260.3 L82.9 260.9 L83.7 261.5 L84.6 262.0 L85.5 262.6 L86.4 263.2 L87.2 263.8 L88.1 264.3 L89.0 264.9 L89.9 265.5 L90.8 266.1 L91.6 266.7 L92.5 267.2 L93.4 267.8 L94.3 268.4 L95.1 269.0 L96.0 269.6 L96.9 270.2 L97.8 270.8 L98.6 271.3 L99.5 271.9 L100.4 272.5 L101.3 273.1 L102.1 273.7 L103.0 274.3 L103.9 274.8 L104.8 275.4 L105.6 276.0 L106.5 276.6 L107.4 277.2 L108.3 277.7 L109.2 278.3 L110.0 278.9 L110.9 279.5 L111.8 280.0 L112.7 280.6 L113.5 281.2 L114.4 281.8 L115.3 282.3 L116.2 282.9 L117.0 283.4 L117.9 284.0 L118.8 284.5 L119.7 285.1 L120.5 285.6 L121.4 286.2 L122.3 286.7 L123.2 287.3 L124.0 287.8 L124.9 288.3 L125.8 288.9 L126.7 289.4 L127.5 289.9 L128.4 290.4 L129.3 290.9 L130.2 291.4 L131.1 291.9 L131.9 292.4 L132.8 292.9 L133.7 293.4 L134.6 293.9 L135.4 294.4 L136.3 294.9 L137.2 295.3 L138.1 295.8 L138.9 296.3 L139.8 296.7 L140.7 297.2 L141.6 297.6 L142.4 298.0 L143.3 298.5 L144.2 298.9 L145.1 299.3 L145.9 299.7 L146.8 300.1 L147.7 300.5 L148.6 300.9 L149.5 301.3 L150.3 301.7 L151.2 302.0 L152.1 302.4 L153.0 302.7 L153.8 303.1 L154.7 303.4 L155.6 303.8 L156.5 304.1 L157.3 304.4 L158.2 304.7 L159.1 305.0 L160.0 305.3 L160.8 305.6 L161.7 305.9 L162.6 306.1 L163.5 306.4 L164.3 306.6 L165.2 306.9 L166.1 307.1 L167.0 307.3 L167.8 307.5 L168.7 307.7 L169.6 307.9 L170.5 308.1 L171.4 308.3 L172.2 308.4 L173.1 308.6 L174.0 308.7 L174.9 308.9 L175.7 309.0 L176.6 309.1 L177.5 309.2 L178.4 309.3 L179.2 309.4 L180.1 309.4 L181.0 309.5 L181.9 309.5 L182.7 309.6 L183.6 309.6 L184.5 309.6 L185.4 309.6 L186.2 309.6 L187.1 309.6 L188.0 309.5" fill="none" stroke="#7f00ff" stroke-width="1.60" stroke-dasharray="6.72 5.60" stroke-dashoffset="8.80"/>
<path d="M48.7 242.0 L49.5 242.3 L50.2 242.5 L51.0 242.8 L51.8 243.1 L52.5 243.3 L53.3 243.6 L54.0 243.9 L54.8 244.1 L55.6 244.4 L56.3 244.7 L57.1 244.9 L57.9 245.2 L58.6 245.4 L59.4 245.7 L60.1 246.0 L60.9 246.2 L61.7 246.5 L62.4 246.8 L63.2 247.0 L64.0 247.3 L64.7 247.5 L65.5 247.8 L66.2 248.1 L67.0 248.3 L67.8 248.6 L68.5 248.8 L69.3 249.1 L70.1 249.4 L70.8 249.6 L71.6 249.9 L72.3 250.1 L73.1 250.4 L73.9 250.6 L74.6 250.9 L75.4 251.1 L76.2 251.4 L76.9 251.6 L77.7 251.9 L78.5 252.1 L79.2 252.4 L80.0 252.6 L80.7 252.9 L81.5 253.1 L82.3 253.4 L83.0 253.6 L83.8 253.9 L84.6 254.1 L85.3 254.3 L86.1 254.6 L86.8 254.8 L87.6 255.1 L88.4 255.3 L89.1 255.5 L89.9 255.8 L90.7 256.0 L91.4 256.2 L92.2 256.5 L92.9 256.7 L93.7 256.9 L94.5 257.1 L95.2 257.4 L96.0 257.6 L96.8 257.8 L97.5 258.0 L98.3 258.2 L99.1 258.5 L99.8 258.7 L100.6 258.9 L101.3 259.1 L102.1 259.3 L102.9 259.5 L103.6 259.7 L104.4 259.9 L105.2 260.1 L105.9 260.3 L106.7 260.5 L107.4 260.7 L108.2 260.9 L109.0 261.1 L109.7 261.3 L110.5 261.5 L111.3 261.7 L112.0 261.9 L112.8 262.1 L113.5 262.3 L114.3 262.5 L115.1 262.6 L115.8 262.8 L116.6 263.0 L117.4 263.2 L118.1 263.3 L118.9 263.5 L119.6 263.7 L120.4 263.9 L121.2 264.0 L121.9 264.2 L122.7 264.3 L123.5 264.5 L124.2 264.7 L125.0 264.8 L125.8 265.0 L126.5 265.1 L127.3 265.3 L128.0 265.4 L128.8 265.5 L129.6 265.7 L130.3 265.8 L131.1 265.9 L131.9 266.1 L132.6 266.2 L133.4 266.3 L134.1 266.5 L134.9 266.6 L135.7 266.7 L136.4 266.8 L137.2 266.9 L138.0 267.0 L138.7 267.2 L139.5 267.3 L140.2 267.4 L141.0 267.5 L141.8 267.6 L142.5 267.7 L143.3 267.7 L144.1 267.8 L144.8 267.9 L145.6 268.0 L146.4 268.1 L147.1 268.2 L147.9 268.2 L148.6 268.3 L149.4 268.4 L150.2 268.4 L150.9 268.5 L151.7 268.6 L152.5 268.6 L153.2 268.7 L154.0 268.7 L154.7 268.8 L155.5 268.8 L156.3 268.8 L157.0 268.9 L157.8 268.9 L158.6 268.9 L159.3 269.0 L160.1 269.0 L160.8 269.0 L161.6 269.0 L162.4 269.0 L163.1 269.1 L163.9 269.1 L164.7 269.1 L165.4 269.1 L166.2 269.1 L166.9 269.0 L167.7 269.0 L168.5 269.0 L169.2 269.0 L170.0 269.0" fill="none" stroke="#009a12" stroke-width="1.60"/>
<line x1="68.00" y1="323.10" x2="92.80" y2="323.10" stroke="#ff0000" stroke-width="1.60" stroke-dasharray="3.36 2.24"/>
<text y="326.80" font-size="10.80"><tspan x="95.39">θ</tspan><tspan x="101.31" dy="2.16" font-size="7.99">d</tspan><tspan x="107.66" dy="-2.16">=</tspan><tspan x="116.16">−</tspan><tspan x="121.95">110</tspan><tspan dx="0.90">°</tspan></text>
<line x1="68.00" y1="340.10" x2="92.80" y2="340.10" stroke="#ff7f00" stroke-width="1.60" stroke-dasharray="7.28 3.02 1.79 3.02"/>
<text y="343.80" font-size="10.80"><tspan x="95.39">θ</tspan><tspan x="101.31" dy="2.16" font-size="7.99">d</tspan><tspan x="107.66" dy="-2.16">=</tspan><tspan x="116.16">−</tspan><tspan x="121.95">80</tspan><tspan dx="0.90">°</tspan></text>
<line x1="68.00" y1="357.20" x2="92.80" y2="357.20" stroke="#7f00ff" stroke-width="1.60" stroke-dasharray="6.72 5.60"/>
<text y="360.90" font-size="10.80"><tspan x="95.39">θ</tspan><tspan x="101.31" dy="2.16" font-size="7.99">d</tspan><tspan x="107.66" dy="-2.16">=</tspan><tspan x="116.16">−</tspan><tspan x="121.95">50</tspan><tspan dx="0.90">°</tspan></text>
<line x1="68.00" y1="374.10" x2="92.80" y2="374.10" stroke="#009a12" stroke-width="1.60"/>
<text y="377.80" font-size="10.80"><tspan x="95.39">θ</tspan><tspan x="101.31" dy="2.16" font-size="7.99">d</tspan><tspan x="107.66" dy="-2.16">=</tspan><tspan x="116.16">−</tspan><tspan x="121.95">20</tspan><tspan dx="0.90">°</tspan></text>
<rect x="315.60" y="230.60" width="223.90" height="180.20" fill="none" stroke="#454545" stroke-width="1.30"/>
<line x1="316.20" y1="248.50" x2="319.20" y2="248.50" stroke="#454545"/>
<line x1="316.20" y1="284.50" x2="319.20" y2="284.50" stroke="#454545"/>
<line x1="316.20" y1="320.50" x2="319.20" y2="320.50" stroke="#454545"/>
<line x1="316.20" y1="356.50" x2="319.20" y2="356.50" stroke="#454545"/>
<line x1="316.20" y1="392.50" x2="319.20" y2="392.50" stroke="#454545"/>
<line x1="347.77" y1="410.20" x2="347.77" y2="406.70" stroke="#454545"/>
<line x1="379.74" y1="410.20" x2="379.74" y2="406.70" stroke="#454545"/>
<line x1="411.71" y1="410.20" x2="411.71" y2="406.70" stroke="#454545"/>
<line x1="443.69" y1="410.20" x2="443.69" y2="406.70" stroke="#454545"/>
<line x1="475.66" y1="410.20" x2="475.66" y2="406.70" stroke="#454545"/>
<line x1="507.63" y1="410.20" x2="507.63" y2="406.70" stroke="#454545"/>
<text x="312.00" y="251.40" font-size="11.80" text-anchor="end">20</text>
<text x="312.00" y="287.40" font-size="11.80" text-anchor="end">10</text>
<text x="312.00" y="323.40" font-size="11.80" text-anchor="end">0</text>
<text x="312.00" y="359.40" font-size="11.80" text-anchor="end">10</text>
<text x="312.00" y="395.40" font-size="11.80" text-anchor="end">20</text>
<text x="315.80" y="424.20" font-size="11.80" text-anchor="middle">0</text>
<text x="347.77" y="424.20" font-size="11.80" text-anchor="middle">10</text>
<text x="379.74" y="424.20" font-size="11.80" text-anchor="middle">20</text>
<text x="411.71" y="424.20" font-size="11.80" text-anchor="middle">30</text>
<text x="443.69" y="424.20" font-size="11.80" text-anchor="middle">40</text>
<text x="475.66" y="424.20" font-size="11.80" text-anchor="middle">50</text>
<text x="507.63" y="424.20" font-size="11.80" text-anchor="middle">60</text>
<text x="539.60" y="424.20" font-size="11.80" text-anchor="middle">70</text>
<text x="427.70" y="444.30" font-size="13.80" text-anchor="middle">Time/s</text>
<text transform="translate(289.2 314.4) rotate(-90)" font-size="13.9" text-anchor="middle">Acceleration/(m/s<tspan font-size="8.5" dy="-4.8" dx="-1.6">2</tspan><tspan dy="4.8" dx="-0.6">)</tspan></text>
<text x="410.5" y="464.5" font-size="12.7" text-anchor="middle">(<tspan font-weight="bold">d</tspan>)</text>
<path d="M315.8 273.7 L317.2 275.5 L318.5 277.3 L319.9 279.0 L321.2 280.7 L322.6 282.4 L323.9 284.1 L325.3 285.7 L326.6 287.3 L328.0 288.9 L329.3 290.5 L330.7 292.0 L332.0 293.5 L333.4 295.0 L334.7 296.5 L336.1 298.0 L337.4 299.4 L338.8 300.8 L340.2 302.2 L341.5 303.5 L342.9 304.8 L344.2 306.2 L345.6 307.4 L346.9 308.7 L348.3 310.0 L349.6 311.2 L351.0 312.4 L352.3 313.6 L353.7 314.7 L355.0 315.9 L356.4 317.0 L357.7 318.1 L359.1 319.2 L360.4 320.3 L361.8 321.4 L363.1 322.5 L364.5 323.6 L365.9 324.6 L367.2 325.7 L368.6 326.7 L369.9 327.8 L371.3 328.8 L372.6 329.9 L374.0 331.0 L375.3 332.1 L376.7 333.2 L378.0 334.3 L379.4 335.4 L380.7 336.5 L382.1 337.6 L383.4 338.8 L384.8 339.9 L386.1 341.1 L387.5 342.2 L388.9 343.4 L390.2 344.6 L391.6 345.8 L392.9 347.0 L394.3 348.2 L395.6 349.5 L397.0 350.7 L398.3 352.0 L399.7 353.2 L401.0 354.5 L402.4 355.8 L403.7 357.1 L405.1 358.4 L406.4 359.7 L407.8 361.0 L409.1 362.3 L410.5 363.6 L411.9 364.9 L413.2 366.2 L414.6 367.5 L415.9 368.8 L417.3 370.1 L418.6 371.4 L420.0 372.6 L421.3 373.9 L422.7 375.2 L424.0 376.4 L425.4 377.6 L426.7 378.8 L428.1 380.0 L429.4 381.2 L430.8 382.3 L432.1 383.5 L433.5 384.6 L434.8 385.6 L436.2 386.7 L437.6 387.7 L438.9 388.7 L440.3 389.6 L441.6 390.5 L443.0 391.4 L444.3 392.2 L445.7 393.0 L447.0 393.7 L448.4 394.4 L449.7 395.0 L451.1 395.6 L452.4 396.1 L453.8 396.6 L455.1 397.0 L456.5 397.4 L457.8 397.6 L459.2 397.9 L460.6 398.0 L461.9 398.1 L463.3 398.1 L464.6 398.1 L466.0 398.0 L467.3 397.8 L468.7 397.5 L470.0 397.2 L471.4 396.8 L472.7 396.3 L474.1 395.7 L475.4 395.1 L476.8 394.5 L478.1 393.8 L479.5 393.0 L480.8 392.1 L482.2 391.2 L483.6 390.3 L484.9 389.3 L486.3 388.2 L487.6 387.1 L489.0 385.9 L490.3 384.7 L491.7 383.4 L493.0 382.1 L494.4 380.7 L495.7 379.3 L497.1 377.8 L498.4 376.3 L499.8 374.7 L501.1 373.1 L502.5 371.5 L503.8 369.8 L505.2 368.1 L506.5 366.3 L507.9 364.6 L509.3 362.7 L510.6 360.8 L512.0 358.9 L513.3 356.9 L514.7 354.9 L516.0 352.8 L517.4 350.7 L518.7 348.5 L520.1 346.3 L521.4 344.1 L522.8 341.7 L524.1 339.4 L525.5 337.0 L526.8 334.5 L528.2 331.9 L529.5 329.3 L530.9 326.7" fill="none" stroke="#ff0000" stroke-width="1.70" stroke-dasharray="3.42 2.28" stroke-dashoffset="1.86"/>
<path d="M315.8 249.8 L317.0 252.0 L318.3 254.2 L319.5 256.4 L320.8 258.6 L322.0 260.7 L323.3 262.9 L324.5 265.2 L325.7 267.4 L327.0 269.6 L328.2 271.8 L329.5 274.0 L330.7 276.3 L332.0 278.5 L333.2 280.7 L334.5 283.0 L335.7 285.2 L336.9 287.5 L338.2 289.7 L339.4 292.0 L340.7 294.2 L341.9 296.5 L343.2 298.7 L344.4 301.0 L345.6 303.3 L346.9 305.5 L348.1 307.8 L349.4 310.0 L350.6 312.3 L351.9 314.5 L353.1 316.8 L354.3 319.0 L355.6 321.2 L356.8 323.5 L358.1 325.7 L359.3 327.9 L360.6 330.1 L361.8 332.3 L363.0 334.5 L364.3 336.6 L365.5 338.8 L366.8 340.9 L368.0 343.0 L369.3 345.0 L370.5 347.1 L371.8 349.1 L373.0 351.1 L374.2 353.0 L375.5 355.0 L376.7 356.9 L378.0 358.7 L379.2 360.5 L380.5 362.3 L381.7 364.0 L382.9 365.7 L384.2 367.3 L385.4 368.9 L386.7 370.4 L387.9 371.9 L389.2 373.3 L390.4 374.6 L391.6 375.9 L392.9 377.2 L394.1 378.3 L395.4 379.5 L396.6 380.5 L397.9 381.5 L399.1 382.4 L400.4 383.3 L401.6 384.0 L402.8 384.8 L404.1 385.5 L405.3 386.1 L406.6 386.6 L407.8 387.2 L409.1 387.6 L410.3 388.0 L411.5 388.4 L412.8 388.7 L414.0 388.9 L415.3 389.1 L416.5 389.2 L417.8 389.4 L419.0 389.4 L420.2 389.4 L421.5 389.4 L422.7 389.3 L424.0 389.2 L425.2 389.0 L426.5 388.8 L427.7 388.6 L428.9 388.3 L430.2 388.0 L431.4 387.7 L432.7 387.3 L433.9 386.9 L435.2 386.4 L436.4 386.0 L437.7 385.5 L438.9 384.9 L440.1 384.4 L441.4 383.8 L442.6 383.2 L443.9 382.5 L445.1 381.8 L446.4 381.2 L447.6 380.4 L448.8 379.7 L450.1 378.9 L451.3 378.2 L452.6 377.3 L453.8 376.5 L455.1 375.7 L456.3 374.8 L457.5 373.9 L458.8 373.0 L460.0 372.1 L461.3 371.1 L462.5 370.1 L463.8 369.2 L465.0 368.2 L466.3 367.1 L467.5 366.1 L468.7 365.1 L470.0 364.0 L471.2 362.9 L472.5 361.8 L473.7 360.7 L475.0 359.6 L476.2 358.5 L477.4 357.3 L478.7 356.2 L479.9 355.0 L481.2 353.8 L482.4 352.6 L483.7 351.4 L484.9 350.2 L486.1 349.0 L487.4 347.8 L488.6 346.6 L489.9 345.3 L491.1 344.1 L492.4 342.8 L493.6 341.6 L494.8 340.3 L496.1 339.1 L497.3 337.8 L498.6 336.5 L499.8 335.2 L501.1 334.0 L502.3 332.7 L503.6 331.4 L504.8 330.1 L506.0 328.9 L507.3 327.6 L508.5 326.3 L509.8 325.0 L511.0 323.7 L512.3 322.5 L513.5 321.2" fill="none" stroke="#ff7f00" stroke-width="1.70" stroke-dasharray="7.41 3.08 1.82 3.08" stroke-dashoffset="0.77"/>
<path d="M315.8 264.7 L316.8 266.9 L317.7 269.2 L318.7 271.4 L319.7 273.8 L320.6 276.1 L321.6 278.5 L322.6 280.9 L323.5 283.3 L324.5 285.8 L325.5 288.2 L326.5 290.7 L327.4 293.2 L328.4 295.7 L329.4 298.2 L330.3 300.7 L331.3 303.2 L332.3 305.7 L333.2 308.1 L334.2 310.6 L335.2 313.0 L336.1 315.4 L337.1 317.8 L338.1 320.2 L339.0 322.5 L340.0 324.8 L341.0 327.0 L342.0 329.2 L342.9 331.3 L343.9 333.4 L344.9 335.4 L345.8 337.4 L346.8 339.3 L347.8 341.1 L348.7 342.9 L349.7 344.6 L350.7 346.3 L351.6 347.9 L352.6 349.4 L353.6 350.9 L354.5 352.4 L355.5 353.7 L356.5 355.1 L357.4 356.3 L358.4 357.6 L359.4 358.7 L360.4 359.9 L361.3 360.9 L362.3 361.9 L363.3 362.9 L364.2 363.9 L365.2 364.7 L366.2 365.6 L367.1 366.4 L368.1 367.1 L369.1 367.9 L370.0 368.5 L371.0 369.2 L372.0 369.8 L372.9 370.3 L373.9 370.9 L374.9 371.4 L375.9 371.8 L376.8 372.3 L377.8 372.6 L378.8 373.0 L379.7 373.3 L380.7 373.6 L381.7 373.9 L382.6 374.2 L383.6 374.4 L384.6 374.6 L385.5 374.7 L386.5 374.8 L387.5 374.9 L388.4 375.0 L389.4 375.1 L390.4 375.1 L391.3 375.1 L392.3 375.0 L393.3 375.0 L394.3 374.9 L395.2 374.8 L396.2 374.7 L397.2 374.5 L398.1 374.3 L399.1 374.1 L400.1 373.9 L401.0 373.6 L402.0 373.4 L403.0 373.1 L403.9 372.8 L404.9 372.4 L405.9 372.1 L406.8 371.7 L407.8 371.3 L408.8 370.9 L409.7 370.5 L410.7 370.0 L411.7 369.5 L412.7 369.1 L413.6 368.6 L414.6 368.0 L415.6 367.5 L416.5 366.9 L417.5 366.4 L418.5 365.8 L419.4 365.2 L420.4 364.6 L421.4 363.9 L422.3 363.3 L423.3 362.6 L424.3 362.0 L425.2 361.3 L426.2 360.6 L427.2 359.9 L428.2 359.2 L429.1 358.4 L430.1 357.7 L431.1 356.9 L432.0 356.2 L433.0 355.4 L434.0 354.6 L434.9 353.8 L435.9 353.0 L436.9 352.2 L437.8 351.4 L438.8 350.6 L439.8 349.8 L440.7 348.9 L441.7 348.1 L442.7 347.2 L443.6 346.4 L444.6 345.5 L445.6 344.7 L446.6 343.8 L447.5 342.9 L448.5 342.0 L449.5 341.2 L450.4 340.3 L451.4 339.4 L452.4 338.5 L453.3 337.6 L454.3 336.7 L455.3 335.8 L456.2 334.9 L457.2 334.0 L458.2 333.1 L459.1 332.2 L460.1 331.4 L461.1 330.5 L462.1 329.6 L463.0 328.7 L464.0 327.8 L465.0 326.9 L465.9 326.0 L466.9 325.2 L467.9 324.3 L468.8 323.4 L469.8 322.6" fill="none" stroke="#7f00ff" stroke-width="1.70" stroke-dasharray="6.84 5.70" stroke-dashoffset="6.71"/>
<path d="M315.8 336.8 L316.6 337.3 L317.5 337.8 L318.3 338.4 L319.2 338.8 L320.0 339.3 L320.8 339.8 L321.7 340.2 L322.5 340.7 L323.4 341.1 L324.2 341.5 L325.0 341.9 L325.9 342.3 L326.7 342.6 L327.6 343.0 L328.4 343.3 L329.2 343.7 L330.1 344.0 L330.9 344.3 L331.8 344.6 L332.6 344.8 L333.4 345.1 L334.3 345.4 L335.1 345.6 L336.0 345.8 L336.8 346.1 L337.6 346.3 L338.5 346.5 L339.3 346.7 L340.2 346.8 L341.0 347.0 L341.8 347.2 L342.7 347.3 L343.5 347.4 L344.4 347.6 L345.2 347.7 L346.0 347.8 L346.9 347.9 L347.7 347.9 L348.6 348.0 L349.4 348.1 L350.3 348.1 L351.1 348.2 L351.9 348.2 L352.8 348.2 L353.6 348.2 L354.5 348.2 L355.3 348.2 L356.1 348.2 L357.0 348.2 L357.8 348.2 L358.7 348.1 L359.5 348.1 L360.3 348.0 L361.2 348.0 L362.0 347.9 L362.9 347.8 L363.7 347.7 L364.5 347.6 L365.4 347.5 L366.2 347.4 L367.1 347.3 L367.9 347.2 L368.7 347.1 L369.6 346.9 L370.4 346.8 L371.3 346.6 L372.1 346.5 L372.9 346.3 L373.8 346.1 L374.6 346.0 L375.5 345.8 L376.3 345.6 L377.1 345.4 L378.0 345.2 L378.8 345.0 L379.7 344.8 L380.5 344.6 L381.3 344.3 L382.2 344.1 L383.0 343.9 L383.9 343.6 L384.7 343.4 L385.5 343.2 L386.4 342.9 L387.2 342.6 L388.1 342.4 L388.9 342.1 L389.7 341.9 L390.6 341.6 L391.4 341.3 L392.3 341.0 L393.1 340.8 L393.9 340.5 L394.8 340.2 L395.6 339.9 L396.5 339.6 L397.3 339.3 L398.1 339.0 L399.0 338.7 L399.8 338.4 L400.7 338.1 L401.5 337.8 L402.3 337.4 L403.2 337.1 L404.0 336.8 L404.9 336.5 L405.7 336.2 L406.5 335.8 L407.4 335.5 L408.2 335.2 L409.1 334.9 L409.9 334.5 L410.7 334.2 L411.6 333.9 L412.4 333.5 L413.3 333.2 L414.1 332.9 L414.9 332.6 L415.8 332.2 L416.6 331.9 L417.5 331.6 L418.3 331.2 L419.2 330.9 L420.0 330.6 L420.8 330.2 L421.7 329.9 L422.5 329.6 L423.4 329.2 L424.2 328.9 L425.0 328.6 L425.9 328.2 L426.7 327.9 L427.6 327.6 L428.4 327.3 L429.2 326.9 L430.1 326.6 L430.9 326.3 L431.8 326.0 L432.6 325.7 L433.4 325.4 L434.3 325.1 L435.1 324.7 L436.0 324.4 L436.8 324.1 L437.6 323.8 L438.5 323.5 L439.3 323.2 L440.2 323.0 L441.0 322.7 L441.8 322.4 L442.7 322.1 L443.5 321.8 L444.4 321.6 L445.2 321.3 L446.0 321.0 L446.9 320.8 L447.7 320.5 L448.6 320.3 L449.4 320.0" fill="none" stroke="#009a12" stroke-width="1.70"/>
<line x1="452.20" y1="245.50" x2="478.30" y2="245.50" stroke="#ff0000" stroke-width="1.70" stroke-dasharray="3.42 2.28"/>
<text y="249.70" font-size="11.80"><tspan x="481.95">θ</tspan><tspan x="488.39" dy="2.36" font-size="8.73">d</tspan><tspan x="495.51" dy="-2.36">=</tspan><tspan x="504.71">−</tspan><tspan x="512.06">110</tspan><tspan dx="0.90">°</tspan></text>
<line x1="452.20" y1="264.30" x2="478.30" y2="264.30" stroke="#ff7f00" stroke-width="1.70" stroke-dasharray="7.41 3.08 1.82 3.08"/>
<text y="268.50" font-size="11.80"><tspan x="481.95">θ</tspan><tspan x="488.39" dy="2.36" font-size="8.73">d</tspan><tspan x="495.51" dy="-2.36">=</tspan><tspan x="504.71">−</tspan><tspan x="512.06">80</tspan><tspan dx="0.90">°</tspan></text>
<line x1="452.20" y1="283.00" x2="478.30" y2="283.00" stroke="#7f00ff" stroke-width="1.70" stroke-dasharray="6.84 5.70"/>
<text y="287.20" font-size="11.80"><tspan x="481.95">θ</tspan><tspan x="488.39" dy="2.36" font-size="8.73">d</tspan><tspan x="495.51" dy="-2.36">=</tspan><tspan x="504.71">−</tspan><tspan x="512.06">50</tspan><tspan dx="0.90">°</tspan></text>
<line x1="452.20" y1="301.30" x2="478.30" y2="301.30" stroke="#009a12" stroke-width="1.70"/>
<text y="305.50" font-size="11.80"><tspan x="481.95">θ</tspan><tspan x="488.39" dy="2.36" font-size="8.73">d</tspan><tspan x="495.51" dy="-2.36">=</tspan><tspan x="504.71">−</tspan><tspan x="512.06">20</tspan><tspan dx="0.90">°</tspan></text>
</svg>
</body></html>
